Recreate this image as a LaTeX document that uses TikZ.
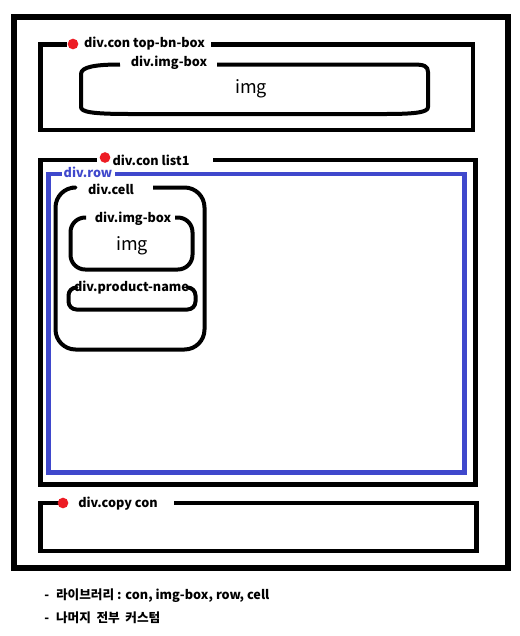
\documentclass[tikz,border=0pt]{standalone}
\usepackage{fontspec}
\setmainfont{Noto Sans CJK KR}
\definecolor{rowblue}{RGB}{63,72,204}
\definecolor{dotred}{RGB}{237,28,36}

\begin{document}
\begin{tikzpicture}[x=0.75pt,y=0.75pt,yscale=-1,xscale=1,
    frame/.style={line width=3.5pt, line join=miter},
    thin frame/.style={line width=3pt, line join=round},
    lbl/.style={inner sep=0.75pt, font=\fontsize{9.5}{11}\selectfont\bfseries},
    note/.style={inner sep=0.75pt, anchor=west, font=\fontsize{9.5}{11}\selectfont\bfseries},
    dot/.style={circle, fill=dotred, inner sep=0pt, minimum size=8pt}]
    \useasboundingbox (0,0) rectangle (520,636);

    %Outer box
    \draw [line width=3.8pt]  (14,17) rectangle (508,568) ;

    %top-bn-box
    \draw [frame]  (211,44.5) -- (473,44.5) -- (473,130) -- (40.5,130) -- (40.5,44.5) -- (67,44.5) ;
    %img-box (top)
    \draw [thin frame]  (217,64.5) -- (413,64.5) .. controls (424,64.5) and (428,66) .. (428,72) -- (428,107) .. controls (428,112) and (418,114) .. (385,114) -- (130,114) .. controls (92,114) and (81,112) .. (81,107) -- (81,74) .. controls (81,67) and (95,64.5) .. (120,64.5) ;

    %list1
    \draw [frame]  (213,160) -- (475.5,160) -- (475.5,484.5) -- (40.5,484.5) -- (40.5,160) -- (97,160) ;
    %row
    \draw [frame, rowblue]  (115,174) -- (464.5,174) -- (464.5,472.5) -- (48.5,472.5) -- (48.5,174) -- (62,174) ;
    %cell
    \draw [thin frame, rounded corners=15]  (153,187.5) -- (204.5,187.5) -- (204.5,349.5) -- (55.5,349.5) -- (55.5,187.5) -- (72,187.5) ;
    %img-box (cell)
    \draw [thin frame, rounded corners=11]  (175,217.5) -- (192.5,217.5) -- (192.5,269.5) -- (70.5,269.5) -- (70.5,217.5) -- (86,217.5) ;
    %product-name
    \draw [thin frame, rounded corners=6]  (189,287.5) -- (195.5,287.5) -- (195.5,309.5) -- (68.5,309.5) -- (68.5,287.5) -- (75,287.5) ;

    %copy con
    \draw [frame]  (174,503) -- (476.5,503) -- (476.5,551) -- (40.5,551) -- (40.5,503) -- (67,503) ;

    % Dots
    \node [dot] (dotTop) at (73,44) {};
    \node [dot] (dotList) at (105,157.5) {};
    \node [dot] (dotCopy) at (63,503) {};

    % Text Node
    \node [lbl] (lblTop) at (144.5,44) {div.con top-bn-box};
    % Text Node
    \node [lbl] (lblImgTop) at (169,63) {div.img-box};
    % Text Node
    \node [inner sep=0.75pt, font=\fontsize{13.5}{15}\selectfont] (imgTop) at (251,89) {img};
    % Text Node
    \node [lbl] (lblList) at (151,160) {div.con list1};
    % Text Node
    \node [lbl, rowblue] (lblRow) at (88,172) {div.row};
    % Text Node
    \node [lbl] (lblCell) at (111,189) {div.cell};
    % Text Node
    \node [lbl] (lblImgCell) at (133,219) {div.img-box};
    % Text Node
    \node [inner sep=0.75pt, font=\fontsize{13.5}{15}\selectfont] (imgCell) at (132,246) {img};
    % Text Node
    \node [lbl] (lblName) at (131.5,288) {div.product-name};
    % Text Node
    \node [lbl] (lblCopy) at (118,504) {div.copy con};
    % Text Node
    \node [note] (note1) at (43,596) {-\hspace{3pt} 라이브러리 : con, img-box, row, cell};
    % Text Node
    \node [note] (note2) at (43,618) {-\hspace{3pt} 나머지\hspace{2pt} 전부\hspace{2pt} 커스텀};
\end{tikzpicture}
\end{document}
